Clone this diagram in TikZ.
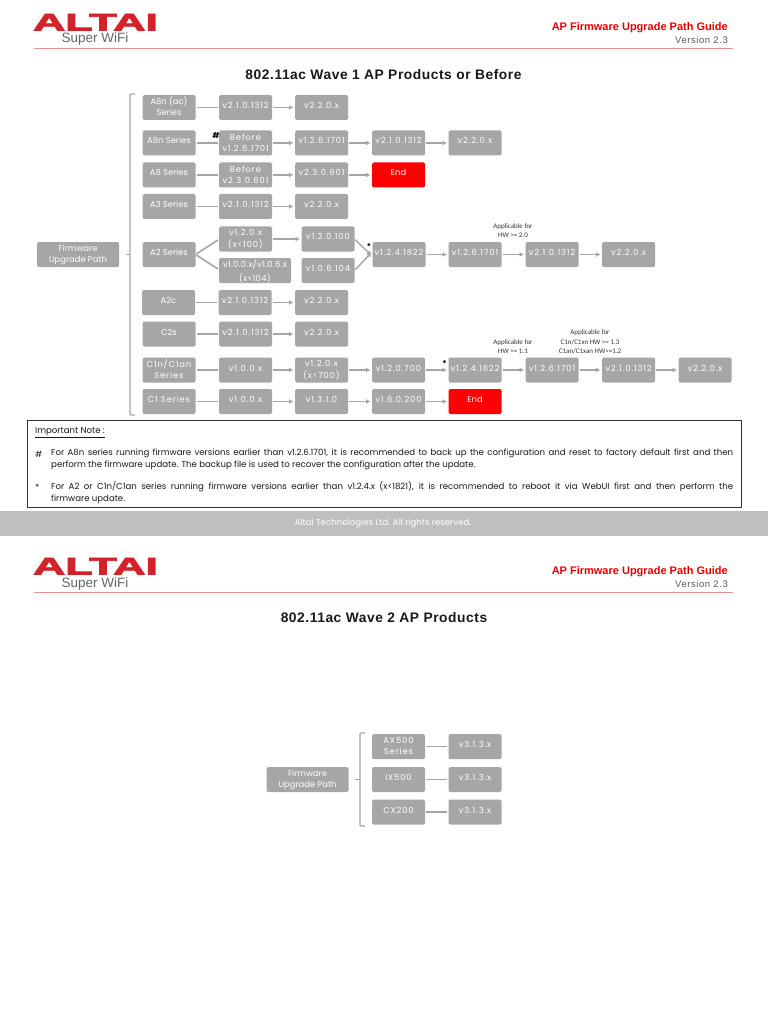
\documentclass[tikz,border=0pt]{standalone}
\usepackage{fontspec}
\setmainfont{Poppins}
\newfontfamily\titlefont[BoldFont={Liberation Sans Bold},LetterSpace=4]{Liberation Sans}
\newfontfamily\smallfont{Carlito}
\newfontfamily\headfont{Liberation Sans}
\newfontfamily\verfont[LetterSpace=6]{Liberation Sans}
\newfontfamily\logofont[FakeBold=3]{Liberation Sans Bold}
\newfontfamily\spaced[LetterSpace=10]{Poppins}
\newfontfamily\spacedtight[LetterSpace=4]{Poppins}
\usetikzlibrary{arrows.meta}
\definecolor{boxgray}{HTML}{A6A6A6}
\definecolor{altai}{HTML}{D2232A}
\newcommand{\twol}[2]{\raisebox{-1.5pt}{\begin{tabular}{@{}c@{}}#1\\[.5pt]#2\end{tabular}}}
\tikzset{
  box/.style={draw=none,fill=boxgray,rounded corners=1.5pt,minimum width=53pt,minimum height=25pt,inner sep=0pt,outer sep=0pt,text=white,text height=6pt,text depth=4pt,font=\fontsize{8.4}{10.5}\selectfont},
  vbox/.style={box,font=\fontsize{8.4}{10.5}\selectfont\spaced},
  wide/.style={box,minimum width=72pt,font=\fontsize{8.4}{10.5}\selectfont\spacedtight},
  fw/.style={box,minimum width=82pt},
  endbox/.style={box,fill=red},
  link/.style={draw=boxgray,line width=1.4pt,shorten >=1.5pt,shorten <=1pt},
  arr/.style={link,-{Latex[length=4.5pt,width=5pt]}},
  brace/.style={draw=boxgray,line width=1.3pt,rounded corners=1pt},
  hwnote/.style={font=\smallfont\fontsize{7}{9.5}\selectfont,align=center,inner sep=0pt,text=black!80},
  smark/.style={font=\bfseries\fontsize{8}{8}\selectfont,inner sep=0pt,text=black},
  logo/.style={font=\fontsize{24}{24}\selectfont\logofont,text=altai,inner sep=0pt,text height=17pt,text depth=0pt},
  logosub/.style={font=\fontsize{13.5}{14}\selectfont\headfont,text=black!60,inner sep=0pt,text height=10pt,text depth=3pt},
  headred/.style={font=\fontsize{11}{11}\selectfont\headfont\bfseries,text=red!90!black,inner sep=0pt,anchor=east},
  headver/.style={font=\fontsize{9.5}{10}\selectfont\verfont,text=black!65,inner sep=0pt,anchor=east},
  headline/.style={draw=altai!50,line width=1.5pt},
  pagetitle/.style={font=\titlefont\bfseries\fontsize{13.8}{14}\selectfont,text=black!90,inner sep=0pt},
  body/.style={inner sep=0pt,font=\fontsize{8.6}{10}\selectfont,text=black!90},
  bodypar/.style={anchor=north west,inner sep=0pt,text width=682pt,align=justify,font=\fontsize{8.6}{11.8}\selectfont,text=black!90},
}
\newcommand{\pagehead}[2]{%
  \node[logo] (logo#1) at (95.5,#2+22) {\scalebox{1.86}[1]{ALTAI}};
  \node[logosub] (sub#1) at (95,#2+39.5) {Super WiFi};
  \node[headred] (guide#1) at (728,#2+28) {AP Firmware Upgrade Path Guide};
  \node[headver] (ver#1) at (728,#2+40) {Version 2.3};
  \coordinate (la#1) at (34,#2+48.5);
  \coordinate (lb#1) at (733,#2+48.5);
  \draw[headline] (la#1) -- (lb#1);
}
\begin{document}
\begin{tikzpicture}[x=1pt,y=-1pt]
\useasboundingbox (0,0) rectangle (768,1024);
\fill[white] (0,0) rectangle (768,1024);
\pagehead{a}{0}
\node[pagetitle] (t1) at (383.5,75) {802.11ac Wave 1 AP Products or Before};
% main
\node[fw] (fw) at (78,254.5) {\twol{Firmware}{Upgrade Path}};
\coordinate (bt) at (135,94); \coordinate (bb) at (135,415); \coordinate (bm) at (130,254.5); \coordinate (bl) at (125.5,254.5);
\draw[brace] (bt) -| (bm) |- (bb);
\draw[brace] (bl) -- (bm);
% rows
\node[box] (r1) at (169,107.5) {\twol{A8n (ac)}{Series}};
\node[vbox] (r1a) at (245.5,107.5) {v2.1.0.1312};
\node[vbox] (r1b) at (321.5,107.5) {v2.2.0.x};
\draw[link] (r1) -- (r1a); \draw[arr] (r1a) -- (r1b);
\node[box] (r2) at (169,143) {A8n Series};
\node[vbox] (r2a) at (245.5,143) {\twol{Before}{v1.2.6.1701}};
\node[vbox] (r2b) at (321.5,143) {v1.2.6.1701};
\node[vbox] (r2c) at (398.5,143) {v2.1.0.1312};
\node[vbox] (r2d) at (475,143) {v2.2.0.x};
\draw[link] (r2) -- (r2a); \draw[arr] (r2a) -- (r2b); \draw[arr] (r2b) -- (r2c); \draw[arr] (r2c) -- (r2d);
\node[smark] (m1) at (216,135.5) {\#};
\node[box] (r3) at (169,175) {A8 Series};
\node[vbox] (r3a) at (245.5,175) {\twol{Before}{v2.3.0.601}};
\node[vbox] (r3b) at (321.5,175) {v2.3.0.601};
\node[endbox] (r3c) at (398.5,175) {End};
\draw[link] (r3) -- (r3a); \draw[arr] (r3a) -- (r3b); \draw[arr] (r3b) -- (r3c);
\node[box] (r4) at (169,206.5) {A3 Series};
\node[vbox] (r4a) at (245.5,206.5) {v2.1.0.1312};
\node[vbox] (r4b) at (321.5,206.5) {v2.2.0.x};
\draw[link] (r4) -- (r4a); \draw[arr] (r4a) -- (r4b);
% A2
\node[box] (r5) at (169,254.5) {A2 Series};
\node[vbox] (r5u) at (245.5,239) {\twol{v1.2.0.x}{(x<100)}};
\node[wide] (r5l) at (255,270.5) {\raisebox{-2.5pt}{\begin{tabular}{@{}c@{}}v1.0.0.x/v1.0.6.x\\[3pt](x<104)\end{tabular}}};
\node[vbox] (r5ua) at (328,239) {v1.2.0.100};
\node[vbox] (r5la) at (328,270.5) {v1.0.6.104};
\node[vbox] (r5c) at (399,254.5) {v1.2.4.1822};
\node[vbox] (r5d) at (475,254.5) {v1.2.6.1701};
\node[vbox] (r5e) at (552,254.5) {v2.1.0.1312};
\node[vbox] (r5f) at (628.5,254.5) {v2.2.0.x};
\coordinate (r5uin) at (218,240); \coordinate (r5lin) at (218,269);
\draw[link,shorten >=0pt,line width=1.6pt] (r5.east) -- (r5uin);
\draw[link,shorten >=0pt,line width=1.6pt] (r5.east) -- (r5lin);
\draw[arr] (r5u) -- (r5ua);
\draw[arr] (r5ua.east) -- ([yshift=-2pt]r5c.west);
\draw[arr] (r5la.east) -- ([yshift=3pt]r5c.west);
\draw[arr] (r5c) -- (r5d); \draw[arr] (r5d) -- (r5e); \draw[arr] (r5e) -- (r5f);
\node[smark] (m2) at (369,247) {*};
\node[hwnote] (n1) at (513,230.5) {Applicable for\\HW >= 2.0};
% A2c, C2s
\node[box] (r6) at (168.5,302.5) {A2c};
\node[vbox] (r6a) at (245,302.5) {v2.1.0.1312};
\node[vbox] (r6b) at (321.5,302.5) {v2.2.0.x};
\draw[link] (r6) -- (r6a); \draw[arr] (r6a) -- (r6b);
\node[box] (r7) at (169,334) {C2s};
\node[vbox] (r7a) at (245.5,334) {v2.1.0.1312};
\node[vbox] (r7b) at (321.5,334) {v2.2.0.x};
\draw[link] (r7) -- (r7a); \draw[arr] (r7a) -- (r7b);
% C1n
\node[vbox] (r8) at (169,370) {\twol{C1n/C1an}{Series}};
\node[vbox] (r8a) at (245.5,370) {v1.0.0.x};
\node[vbox] (r8b) at (321.5,370) {\twol{v1.2.0.x}{(x<700)}};
\node[vbox] (r8c) at (398.5,370) {v1.2.0.700};
\node[vbox] (r8d) at (475,370) {v1.2.4.1822};
\node[vbox] (r8e) at (552,370) {v1.2.6.1701};
\node[vbox] (r8f) at (628.5,370) {v2.1.0.1312};
\node[vbox] (r8g) at (705,370) {v2.2.0.x};
\draw[link] (r8) -- (r8a); \draw[arr] (r8a) -- (r8b); \draw[arr] (r8b) -- (r8c); \draw[arr] (r8c) -- (r8d); \draw[arr] (r8d) -- (r8e); \draw[arr] (r8e) -- (r8f); \draw[arr] (r8f) -- (r8g);
\node[smark] (m3) at (444.5,363.5) {*};
\node[hwnote] (n2) at (513,346.5) {Applicable for\\HW >= 1.1};
\node[hwnote] (n3) at (590,342) {Applicable for\\C1n/C1xn HW >= 1.3\\C1an/C1xan HW>=1.2};
% C1
\node[vbox] (r9) at (169,401.5) {C1 Series};
\node[vbox] (r9a) at (245.5,401.5) {v1.0.0.x};
\node[vbox] (r9b) at (321.5,401.5) {v1.3.1.0};
\node[vbox] (r9c) at (398.5,401.5) {v1.6.0.200};
\node[endbox] (r9d) at (475,401.5) {End};
\draw[link] (r9) -- (r9a); \draw[arr] (r9a) -- (r9b); \draw[arr] (r9b) -- (r9c); \draw[arr] (r9c) -- (r9d);
% note box
\draw[black!80,line width=.9pt] (27.5,420.5) rectangle (741,507);
\node[body,anchor=west] (nh) at (35,432.5) {\underline{Important Note :}};
\node[body,anchor=west] (ns1) at (35,454) {\#};
\node[bodypar] (np1) at (51,448.5) {For A8n series running firmware versions earlier than v1.2.6.1701, it is recommended to back up the configuration and reset to factory default first and then\linebreak perform the firmware update. The backup file is used to recover the configuration after the update.};
\node[body,anchor=west] (ns2) at (35,487) {*};
\node[bodypar] (np2) at (51,481) {For A2 or C1n/C1an series running firmware versions earlier than v1.2.4.x (x<1821), it is recommended to reboot it via WebUI first and then perform the\linebreak firmware update.};
% footer
\fill[black!25] (0,510.5) rectangle (768,535.5);
\node[inner sep=0pt,text=white,font=\fontsize{8.6}{10}\selectfont] (ft) at (383,523) {Altai Technologies Ltd. All rights reserved.};
% second page
\pagehead{b}{544}
\node[pagetitle] (t2) at (384,618) {802.11ac Wave 2 AP Products};
\node[fw] (fw2) at (307.5,779.5) {\twol{Firmware}{Upgrade Path}};
\coordinate (ct) at (365,733); \coordinate (cb) at (365,826); \coordinate (cm) at (360,779.5); \coordinate (cl) at (355,779.5);
\draw[brace] (ct) -| (cm) |- (cb);
\draw[brace] (cl) -- (cm);
\node[vbox] (s1) at (398.5,746.5) {\twol{AX500}{Series}};
\node[vbox] (s1a) at (475,746.5) {v3.1.3.x};
\node[vbox] (s2) at (398.5,779.5) {IX500};
\node[vbox] (s2a) at (475,779.5) {v3.1.3.x};
\node[vbox] (s3) at (398.5,812) {CX200};
\node[vbox] (s3a) at (475,812) {v3.1.3.x};
\draw[link] (s1) -- (s1a); \draw[link] (s2) -- (s2a); \draw[link] (s3) -- (s3a);
\end{tikzpicture}
\end{document}
